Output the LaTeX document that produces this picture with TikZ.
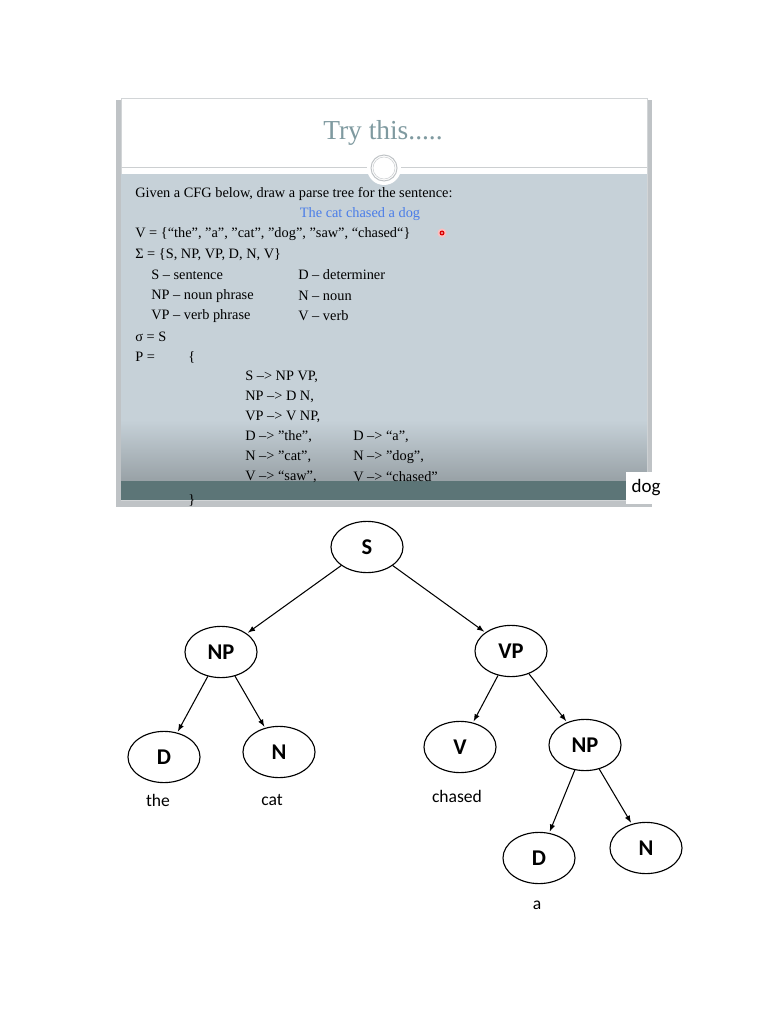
\documentclass[tikz,border=0pt]{standalone}
\usepackage{fontspec}
\setmainfont{Liberation Serif}
\newfontfamily\carlito{Carlito}
\usetikzlibrary{shapes.geometric}
\definecolor{slidebody}{HTML}{C6D1D8}
\definecolor{slidelow}{HTML}{98A1A6}
\definecolor{slideband}{HTML}{5C7577}
\definecolor{slidetitle}{HTML}{7F9AA0}
\definecolor{slideblue}{HTML}{4A7DE8}
\definecolor{slideedge}{HTML}{BFC3C6}

\begin{document}
\begin{tikzpicture}[x=0.025cm, y=-0.025cm,
  treenode/.style={draw, ellipse, line width=0.8pt, minimum width=1.8cm, minimum height=1.28cm, inner sep=0pt, font=\carlito\bfseries\fontsize{16}{19}\selectfont},
  leafword/.style={inner sep=0pt, font=\carlito\fontsize{12.5}{15}\selectfont},
  edge/.style={-latex, line width=0.75pt, shorten >=1pt},
  slidetext/.style={anchor=west, inner sep=0pt, font=\fontsize{10.2}{12}\selectfont},
]
\useasboundingbox[fill=white] (0,0) rectangle (768,1024);

% slide frame (pixel coordinates, y downwards)
\fill[slideedge] (116,100) rectangle (652,507);
\fill[white] (121,98) rectangle (647,500);
\draw[slideedge!70, line width=0.4pt] (121,98) rectangle (647,500);
\fill[slidebody] (121,174) rectangle (647,420);
\shade[top color=slidebody, bottom color=slidelow] (121,420) rectangle (647,481);
\fill[slideband] (121,481) rectangle (647,500);
\draw[slideedge!80, line width=0.6pt] (121,167) -- (647,167);
\fill[white] (384,168) circle (17);
\draw[slideedge, line width=0.7pt] (384,168) circle (13);
\draw[slideedge!80, line width=0.4pt] (384,168) circle (11);

\node[font=\fontsize{19.5}{22}\selectfont\color{slidetitle}] (title) at (383,133) {Try this.....};

% slide text
\foreach \i/\x/\y/\txt in {%
  1/135/194/{Given a CFG below, draw a parse tree for the sentence:},
  3/135/234/{V = \{“the”, "a", "cat", "dog", "saw", “chased“\}},
  4/135/255/{Σ = \{S, NP, VP, D, N, V\}},
  5/151/275/{S – sentence},
  6/151/296/{NP – noun phrase},
  7/151/316/{VP – verb phrase},
  8/135/337/{σ = S},
  9/135/357/{P =},
  10/245/377/{S –> NP VP,},
  11/245/397/{NP –> D N,},
  12/245/417/{VP –> V NP,},
  13/245/437/{D –> "the",},
  14/245/457/{N –> "cat",},
  15/245/477/{V –> “saw”,}%
} {
  \node[slidetext] (line\i) at (\x,\y) {\txt};
}
\foreach \i/\y/\txt in {%
  5/275/{D – determiner},
  6/296/{N – noun},
  7/316/{V – verb},
  13/437/{D –> “a”,},
  14/457/{N –> "dog",},
  15/477/{V –> “chased”}%
} {
  \pgfmathsetmacro{\xr}{\i<10 ? 298 : 353}
  \node[slidetext] (right\i) at (\xr,\y) {\txt};
}
\node[slidetext] (open) at (188,357) {\{};
\node[slidetext] (close) at (188,500) {\}};
\node[font=\fontsize{10.2}{12}\selectfont\color{slideblue}] (sentence) at (360,214) {The cat chased a dog};
\fill[red!25] (442,233) circle (4.5);
\fill[red!85!black] (442,233) circle (2.5);
\fill[white] (442,233) circle (0.9);

% word pasted beside the slide
\fill[white] (626,472) rectangle (668,504);
\node[leafword, font=\carlito\fontsize{13.5}{16}\selectfont] (dogword) at (646,488) {dog};

% parse tree
\node[treenode] (s) at (367,547) {S};
\node[treenode] (np) at (221,652) {NP};
\node[treenode] (vp) at (511,651) {VP};
\node[treenode] (d) at (164,757) {D};
\node[treenode] (n) at (279,752) {N};
\node[treenode] (v) at (460,747) {V};
\node[treenode] (np2) at (585,745) {NP};
\node[treenode] (d2) at (539,858) {D};
\node[treenode] (n2) at (646,848) {N};

\draw[edge] (s) -- (np);
\draw[edge] (s) -- (vp);
\draw[edge] (np) -- (d);
\draw[edge] (np) -- (n);
\draw[edge] (vp) -- (v);
\draw[edge] (vp) -- (np2);
\draw[edge] (np2) -- (d2);
\draw[edge] (np2) -- (n2);

\node[leafword] (the) at (158,800) {the};
\node[leafword] (cat) at (272,800) {cat};
\node[leafword] (chased) at (457,796) {chased};
\node[leafword] (a) at (537,905) {a};
\end{tikzpicture}
\end{document}
